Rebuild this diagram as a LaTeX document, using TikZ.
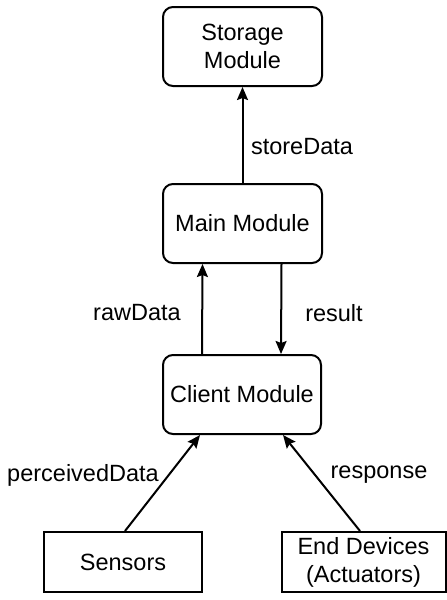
\documentclass[tikz,border=0pt]{standalone}
\usepackage{fontspec}
\setmainfont{Liberation Sans}
\usetikzlibrary{arrows.meta}
\begin{document}
\begin{tikzpicture}[x=1pt,y=-1pt,
  font=\fontsize{23.5}{28}\selectfont,
  mod/.style={draw,line width=2pt,rounded corners=10pt,inner sep=0pt,align=center},
  dev/.style={draw,line width=2pt,inner sep=0pt,align=center},
  conn/.style={line width=2pt,-{Stealth[length=13pt,width=11pt,inset=2pt]}},
  lbl/.style={inner sep=0pt}]
\useasboundingbox (0,0) rectangle (447,600);
\node[mod,minimum width=159pt,minimum height=79pt] (storage) at (242.5,46.5) {Storage\\Module};
\node[mod,minimum width=159pt,minimum height=79pt] (main) at (242.5,223.5) {Main Module};
\node[mod,minimum width=158pt,minimum height=79pt] (client) at (242,394.5) {Client Module};
\node[dev,minimum width=158pt,minimum height=60pt] (sensors) at (123,562) {Sensors};
\node[dev,minimum width=164pt,minimum height=60pt] (end) at (363.5,562) {End Devices\\(Actuators)};
\draw[conn] (main.north) -- (storage.south);
\draw[conn] ([xshift=-40pt]client.north) -- ([xshift=-40pt]main.south);
\draw[conn] ([xshift=39pt]main.south) -- ([xshift=39pt]client.north);
\draw[conn] ([xshift=2pt]sensors.north) -- ([xshift=-42pt]client.south);
\draw[conn] ([xshift=-3.5pt]end.north) -- ([xshift=41pt]client.south);
\node[lbl] (l1) at (302,147) {storeData};
\node[lbl] (l2) at (137,313) {rawData};
\node[lbl] (l3) at (334,313) {result};
\node[lbl] (l4) at (83,475) {perceivedData};
\node[lbl] (l5) at (379,475) {response};
\end{tikzpicture}
\end{document}
